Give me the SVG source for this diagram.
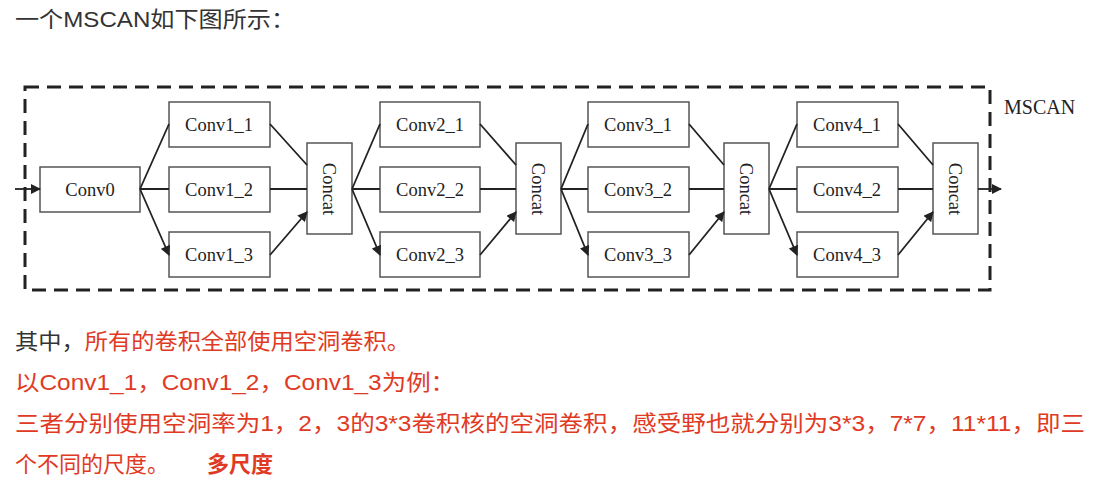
<svg xmlns="http://www.w3.org/2000/svg" width="1117" height="492" viewBox="0 0 1117 492">
<style>
.b{fill:#fff;stroke:#555;stroke-width:1.5}
.l{font-family:"Liberation Serif",serif;font-size:18.5px;fill:#222;text-anchor:middle}
.c{stroke:#222;stroke-width:1.8;fill:none;marker-end:url(#a)}
.t{font-family:"Liberation Sans","Noto Sans CJK SC",sans-serif;font-size:22px}
.k{fill:#333}.r{fill:#e03a24}
</style>
<defs><marker id="a" viewBox="0 0 10 10" refX="9" refY="5" markerWidth="11" markerHeight="10" orient="auto" markerUnits="userSpaceOnUse"><path d="M0,0L10,5L0,10z" fill="#222"/></marker></defs>
<rect width="1117" height="492" fill="#fff"/>
<text class="t k" x="15" y="27" textLength="280" lengthAdjust="spacingAndGlyphs">一个MSCAN如下图所示：</text>
<rect x="25" y="87" width="965" height="203" fill="none" stroke="#222" stroke-width="3" stroke-dasharray="14,8"/>
<text x="1004" y="114" style="font-family:'Liberation Serif',serif;font-size:20px;fill:#222">MSCAN</text>
<g id="conv0"><rect class="b" x="40" y="167" width="100" height="45"/><text class="l" x="90" y="196">Conv0</text></g>
<g id="s1"><rect class="b" x="169" y="102" width="101" height="45"/><text class="l" x="219" y="131">Conv1_1</text>
<rect class="b" x="169" y="167" width="101" height="45"/><text class="l" x="219" y="196">Conv1_2</text>
<rect class="b" x="169" y="232" width="101" height="45"/><text class="l" x="219" y="261">Conv1_3</text>
<rect class="b" x="307" y="143" width="45" height="91"/><text class="l" transform="translate(323 189) rotate(90)">Concat</text></g>
<g id="s2"><rect class="b" x="380" y="102" width="100" height="45"/><text class="l" x="430" y="131">Conv2_1</text>
<rect class="b" x="380" y="167" width="100" height="45"/><text class="l" x="430" y="196">Conv2_2</text>
<rect class="b" x="380" y="232" width="100" height="45"/><text class="l" x="430" y="261">Conv2_3</text>
<rect class="b" x="516" y="143" width="45" height="91"/><text class="l" transform="translate(532 189) rotate(90)">Concat</text></g>
<g id="s3"><rect class="b" x="588" y="102" width="101" height="45"/><text class="l" x="638" y="131">Conv3_1</text>
<rect class="b" x="588" y="167" width="101" height="45"/><text class="l" x="638" y="196">Conv3_2</text>
<rect class="b" x="588" y="232" width="101" height="45"/><text class="l" x="638" y="261">Conv3_3</text>
<rect class="b" x="724" y="143" width="45" height="91"/><text class="l" transform="translate(740 189) rotate(90)">Concat</text></g>
<g id="s4"><rect class="b" x="797" y="102" width="101" height="45"/><text class="l" x="847" y="131">Conv4_1</text>
<rect class="b" x="797" y="167" width="101" height="45"/><text class="l" x="847" y="196">Conv4_2</text>
<rect class="b" x="797" y="232" width="101" height="45"/><text class="l" x="847" y="261">Conv4_3</text>
<rect class="b" x="933" y="143" width="45" height="91"/><text class="l" transform="translate(949 189) rotate(90)">Concat</text></g>
<g id="connectors">
<path class="c" d="M15,189H40"/>
<path class="c" d="M140,189L169,124M140,189H169M140,189L169,255"/>
<path class="c" d="M270,124L307,165M270,189H307M270,255L307,212"/>
<path class="c" d="M352,189L380,124M352,189H380M352,189L380,255"/>
<path class="c" d="M480,124L516,165M480,189H516M480,255L516,212"/>
<path class="c" d="M561,189L588,124M561,189H588M561,189L588,255"/>
<path class="c" d="M689,124L724,165M689,189H724M689,255L724,212"/>
<path class="c" d="M769,189L797,124M769,189H797M769,189L797,255"/>
<path class="c" d="M898,124L933,165M898,189H933M898,255L933,212"/>
<path class="c" d="M978,189H1001"/>
</g>
<text class="t" x="15" y="349" textLength="395" lengthAdjust="spacingAndGlyphs"><tspan class="k">其中，</tspan><tspan class="r">所有的卷积全部使用空洞卷积。</tspan></text>
<text class="t r" x="15" y="390" textLength="440" lengthAdjust="spacingAndGlyphs">以Conv1_1，Conv1_2，Conv1_3为例：</text>
<text class="t r" x="15" y="431" textLength="1070" lengthAdjust="spacingAndGlyphs">三者分别使用空洞率为1，2，3的3*3卷积核的空洞卷积，感受野也就分别为3*3，7*7，11*11，即三</text>
<text class="t r" x="15" y="472">个不同的尺度。<tspan x="207" font-weight="bold">多尺度</tspan></text>
</svg>
